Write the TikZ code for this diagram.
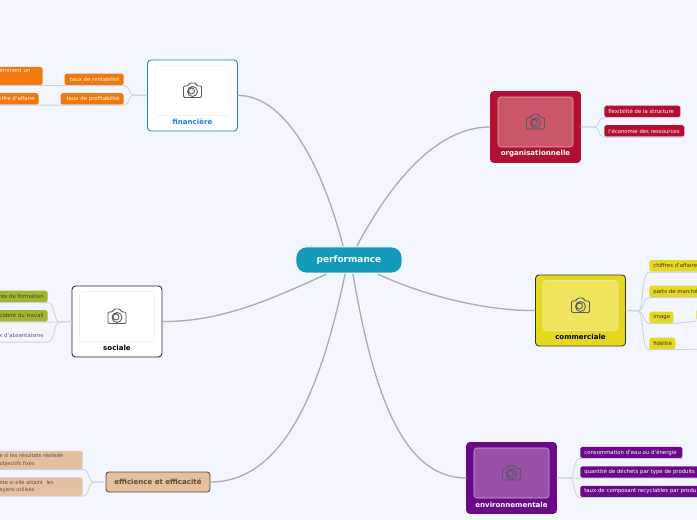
\documentclass[tikz,border=0pt]{standalone}
\usepackage{fontspec}
\setmainfont{DejaVu Sans}
\def\px{.02cm}
\definecolor{fond}{HTML}{F3F6FF}
\definecolor{branche}{HTML}{ABABB0}
\definecolor{fil}{HTML}{CFD2DE}
\definecolor{bleuc}{HTML}{149ABB}
\definecolor{bleu}{HTML}{1A7FE0}
\definecolor{rouge}{HTML}{B30F30}
\definecolor{rougec}{HTML}{C9566B}
\definecolor{jaune}{HTML}{E6D81C}
\definecolor{jaunec}{HTML}{EFE45C}
\definecolor{violet}{HTML}{6A0A8A}
\definecolor{violetc}{HTML}{9A4FA8}
\definecolor{orange}{HTML}{F0780C}
\definecolor{vert}{HTML}{A3B52A}
\definecolor{sable}{HTML}{E4BFA0}
\definecolor{brun}{HTML}{5E4A35}
\definecolor{grisbord}{HTML}{E6E8EE}
\definecolor{gristx}{HTML}{555A66}
\tikzset{
 topic/.style={rounded corners=2pt,line width=.5pt,minimum width=90*\px,minimum height=71*\px,inner sep=0pt},
 photo/.style={rounded corners=1.6pt,line width=.3pt,minimum width=75*\px,minimum height=50*\px,inner sep=0pt},
 toplab/.style={inner sep=0pt,font=\bfseries\fontsize{4}{5}\selectfont},
 kid/.style={rounded corners=1pt,inner ysep=0pt,inner xsep=4*\px,minimum height=11.5*\px,text width=(\w-8)*\px,font=\fontsize{3.05}{4}\selectfont},
 kidl/.style={kid,anchor=east,align=right},
 kidr/.style={kid,anchor=west,align=left},
 finkid/.style={kidl,fill=orange,text=white},
 sockid/.style={kidl,fill=vert,text=black!75},
 plainkid/.style={kidl,text=gristx},
 orgkid/.style={kidr,fill=rouge,text=white},
 comkid/.style={kidr,fill=jaune,text=black!80},
 envkid/.style={kidr,fill=violet,text=white},
 effkid/.style={rounded corners=1pt,fill=sable,text=brun,inner ysep=0pt,inner xsep=3*\px,minimum height=18.5*\px,text width=80*\px,anchor=east,align=left,font=\fontsize{2.9}{4.25}\selectfont},
 camera/.pic={
  \draw[gristx,line width=.55pt,rounded corners=.7pt] (-9,-4.5) -- (-4.5,-4.5) -- (-3,-7.5) -- (3,-7.5) -- (4.5,-4.5) -- (9,-4.5) -- (9,7) -- (-9,7) -- cycle;
  \draw[gristx,line width=.5pt] (0,1) circle (5) (-1,.5) circle (3);
 },
 branch/.style={draw=branche,line width=.75pt},
 wire/.style={draw=fil,line width=.5pt}
}
\begin{document}
\begin{tikzpicture}[x=\px,y=-\px,line join=round,line cap=round]
\useasboundingbox (0,0) rectangle (697,520);
\clip (0,0) rectangle (697,520);
\fill[fond] (0,0) rectangle (697,520);
\node[fill=bleuc,draw=white,line width=.3pt,rounded corners=6pt,minimum width=106*\px,minimum height=26*\px,inner sep=0pt,text=white,font=\bfseries\fontsize{5.1}{6}\selectfont] (perf) at (349,260) {performance};
\foreach \n/\x/\y/\co/\bo/\im/\tc/\t in {fin/192.5/95.5/white/bleu/white/bleu/financière,org/535.5/127/rouge/rouge/rougec/white/organisationnelle,com/580.5/310.5/jaune/black!80/jaunec/black/commerciale,soc/117/321.5/white/black!85/white/black/sociale,env/511.5/478/violet/violet/violetc/white/environnementale}{
\node[topic,fill=\co,draw=\bo] (\n) at (\x,\y) {};
\node[photo,fill=\im,draw=grisbord!60!\im] (\n img) at (\x,\y-5) {};
\pic at (\x,\y-5) {camera};
\node[toplab,text=\tc] (\n lab) at (\x,\y+26.5) {\t};
}
\node[fill=sable,draw=brun,line width=.5pt,rounded corners=1.6pt,minimum width=104*\px,minimum height=20*\px,inner sep=0pt,text=brun,font=\bfseries\fontsize{4}{5}\selectfont] (eff) at (158,482) {efficience et efficacité};
\foreach \n/\x/\y/\w/\k/\t in {rent/124/79.5/59/finkid/taux de rentabilité,prof/124/99/63/finkid/taux de profitabilité,chif/39/99/50/finkid/iffre d'affaire,form/48/296.5/60/sockid/res de formation,trav/48/316/60/sockid/cident du travail,abse/48/336/60/plainkid/x d'absentaisme,flex/604/111.5/76/orgkid/flexibilité de la structure,econ/604/131/80/orgkid/l'économie des ressources,caff/649/266/70/comkid/chiffres d'affaire,parts/649/291.5/70/comkid/parts de marché,imag/649/317.5/24/comkid/image,fide/649/343.5/26/comkid/fidélité,imgk/696/315/30/comkid/{},cons/580/452.5/102/envkid/consommation d'eau ou d'énergie,dech/580/472/130/envkid/quantité de déchets par type de produits,taux/580/491.5/130/envkid/taux de composant recyclables par produ}
\node[\k] (\n) at (\x,\y) {\t};
\node[effkid,fill=orange,text=white,text width=40*\px,minimum height=18*\px,font=\fontsize{3.05}{6}\selectfont] (emin) at (43,76) {éminent un\\~};
\node[effkid] (eone) at (83,460) {e si les résultats réalisée\\objectifs fixés};
\node[effkid] (etwo) at (83,486.5) {nte si elle attaint\ \ les\\oyens utilisés};
\draw[branch] ([shift={(-6,-1)}]perf.north) .. controls (322,165) and (285,95) .. (fin.east);
\draw[branch] ([shift={(8,-1)}]perf.north) .. controls (395,175) and (440,127) .. (org.west);
\draw[branch] ([shift={(29,1)}]perf.south) .. controls (430,298) and (490,311) .. (com.west);
\draw[branch] ([shift={(4,1)}]perf.south) .. controls (372,385) and (400,478) .. (env.west);
\draw[branch] ([shift={(-4,1)}]perf.south) .. controls (322,385) and (285,482) .. (eff.east);
\draw[branch] ([shift={(-23,1)}]perf.south) .. controls (270,300) and (220,322) .. (soc.east);
\coordinate (finhub) at (133,95);
\coordinate (sochub) at (59,322);
\coordinate (effhub) at (95,482);
\coordinate (orghub) at (595,127);
\coordinate (comhub) at (638,311);
\coordinate (envhub) at (570,478);
\coordinate (fidend) at (697,349.2);
\draw[branch,draw=fil] (fin.west)--(finhub) (soc.west)--(sochub) (eff.west)--(effhub) (org.east)--(orghub) (com.east)--(comhub) (env.east)--(envhub);
\draw[wire] (finhub) .. controls (129,95) and (130,85) .. (rent.south east)--(rent.south west)--(emin.south east)--(emin.south west);
\draw[wire] (finhub) .. controls (129,95) and (130,105) .. (prof.south east)--(prof.south west)--(chif.south east)--(chif.south west);
\draw[wire] (sochub) .. controls (54,322) and (55,302) .. (form.south east)--(form.south west);
\draw[wire] (sochub) .. controls (53,322) and (53,322) .. (trav.south east)--(trav.south west);
\draw[wire] (sochub) .. controls (54,322) and (55,341.7) .. (abse.south east)--(abse.south west);
\draw[wire] (effhub) .. controls (87,482) and (90,469.2) .. (eone.south east)--(eone.south west);
\draw[wire] (effhub) .. controls (87,482) and (90,495.8) .. (etwo.south east)--(etwo.south west);
\draw[wire] (orghub) .. controls (599,127) and (598,117.2) .. (flex.south west)--(flex.south east);
\draw[wire] (orghub) .. controls (599,127) and (598,136.8) .. (econ.south west)--(econ.south east);
\draw[wire] (comhub) .. controls (644,311) and (641,272) .. (caff.south west)--(caff.south east);
\draw[wire] (comhub) .. controls (644,311) and (643,297.2) .. (parts.south west)--(parts.south east);
\draw[wire] (comhub) .. controls (644,311) and (643,323.2) .. (imag.south west)--(imag.south east)--(imgk.south west);
\draw[wire] (comhub) .. controls (644,311) and (641,349.2) .. (fide.south west)--(fide.south east)--(fidend);
\draw[wire] (envhub) .. controls (575,478) and (573,458.2) .. (cons.south west)--(cons.south east);
\draw[wire] (envhub) .. controls (575,478) and (575,477.7) .. (dech.south west)--(dech.south east);
\draw[wire] (envhub) .. controls (575,478) and (573,497.2) .. (taux.south west)--(taux.south east);
\end{tikzpicture}
\end{document}
